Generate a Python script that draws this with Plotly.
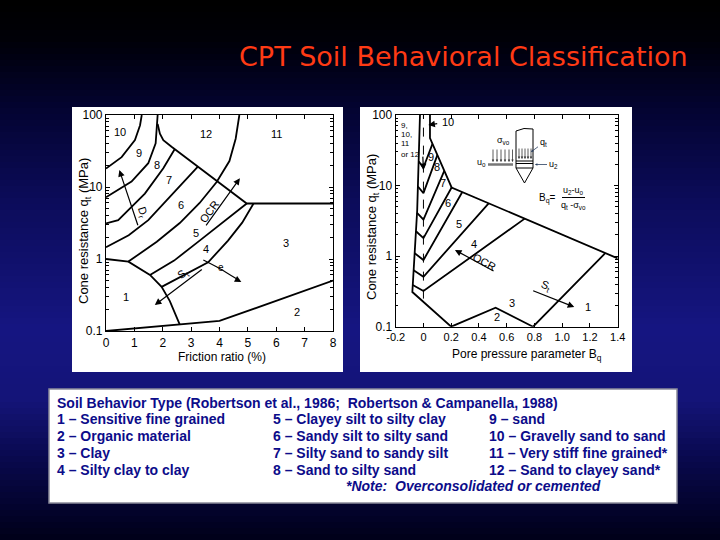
import numpy as np
import plotly.graph_objects as go

W, H = 720, 540

# ---------------- left chart: cone resistance vs friction ratio ----------------
rf_10_9 = [0, 0.55, 1.02, 1.2, 1.26]
qt_10_9 = [18, 26, 45, 72, 100]
rf_9_8 = [0, 0.9, 1.49, 1.75, 1.82]
qt_9_8 = [7.2, 11.9, 21.4, 40.5, 100]
rf_12 = [1.82, 1.9, 2.02, 2.31, 4.96, 8]
qt_12 = [75, 55, 44.7, 36.3, 5.9, 5.9]
rf_8_7 = [0, 0.43, 1.37, 2.02, 2.43]
qt_8_7 = [3.13, 3.47, 8.1, 18.2, 34]
rf_7_6 = [0, 0.8, 1.49, 2.43, 3.23]
qt_7_6 = [1.46, 2.14, 3.47, 8.6, 19]
rf_6_5 = [0.79, 1.79, 2.6, 3.3, 3.9, 4.35, 4.57, 4.7]
qt_6_5 = [0.92, 1.74, 3.16, 6.0, 11.7, 22.9, 46.8, 100]
rf_5_4 = [1.55, 2.4, 3.3, 4.0, 4.6, 4.96]
qt_5_4 = [0.6, 0.95, 1.8, 3.0, 4.6, 5.9]
rf_4_3 = [1.96, 2.8, 3.6, 4.3, 4.8, 5.2]
qt_4_3 = [0.41, 0.62, 0.9, 1.8, 3.2, 5.9]
rf_zone1 = [0, 0.79, 1.55, 1.96, 2.25, 2.45, 2.6]
qt_zone1 = [1.0, 0.92, 0.6, 0.41, 0.26, 0.17, 0.123]
rf_zone2 = [0, 4.0, 8]
qt_zone2 = [0.1, 0.138, 0.5]

left_lines = [(rf_10_9, qt_10_9), (rf_9_8, qt_9_8), (rf_12, qt_12), (rf_8_7, qt_8_7),
              (rf_7_6, qt_7_6), (rf_6_5, qt_6_5), (rf_5_4, qt_5_4), (rf_4_3, qt_4_3),
              (rf_zone1, qt_zone1), (rf_zone2, qt_zone2)]

zone_left = ["10", "9", "8", "7", "6", "5", "4", "12", "11", "3", "1", "2"]
zone_left_rf = [0.49, 1.17, 1.78, 2.23, 2.66, 3.17, 3.52, 3.52, 6.0, 6.33, 0.70, 6.73]
zone_left_qt = [58.8, 29.4, 20.2, 12.5, 5.7, 2.27, 1.38, 53.8, 53.8, 1.65, 0.30, 0.186]

# ---------------- right chart: cone resistance vs Bq ----------------
bq_outer = [-0.025, -0.045, -0.08, 0.2, 0.52, 0.79, 1.31]
qt_outer = [100, 4.5, 0.31, 0.1, 0.186, 0.1, 1.1]
bq_fan = [0.047, 0.047, 0.203, 1.4]
qt_fan = [100, 47, 9.4, 0.93]
bq_v1, qt_v1 = [-0.077, 0, 0.73], [0.39, 0.32, 3.4]
bq_v2, qt_v2 = [-0.071, 0, 0.47], [0.63, 0.51, 5.6]
bq_v3, qt_v3 = [-0.063, 0, 0.28], [1.1, 0.88, 8.1]
bq_v4, qt_v4 = [-0.054, 0, 0.203], [2.25, 1.8, 9.4]
bq_v5, qt_v5 = [-0.046, 0, 0.15], [4.1, 3.3, 16.2]
bq_v6, qt_v6 = [-0.040, 0, 0.1], [9.7, 7.8, 27]
bq_v7, qt_v7 = [-0.035, 0, 0.065], [22, 18, 39]
bq_dash, qt_dash = [0, 0], [0.25, 100]

right_lines = [(bq_outer, qt_outer), (bq_fan, qt_fan), (bq_v1, qt_v1), (bq_v2, qt_v2),
               (bq_v3, qt_v3), (bq_v4, qt_v4), (bq_v5, qt_v5), (bq_v6, qt_v6), (bq_v7, qt_v7)]

zone_right = ["9", "8", "7", "6", "5", "4", "3", "2", "1"]
zone_right_bq = [0.052, 0.10, 0.139, 0.175, 0.259, 0.364, 0.636, 0.528, 1.184]
zone_right_qt = [25.7, 18.5, 10.8, 5.6, 2.9, 1.51, 0.214, 0.138, 0.19]

legend_rows = [
    ["1 – Sensitive fine grained", "5 – Clayey silt to silty clay", "9 – sand"],
    ["2 – Organic material", "6 – Sandy silt to silty sand", "10 – Gravelly sand to sand"],
    ["3 – Clay", "7 – Silty sand to sandy silt", "11 – Very stiff fine grained*"],
    ["4 – Silty clay to clay", "8 – Sand to silty sand", "12 – Sand to clayey sand*"],
]

SANS = "Liberation Sans, Arial, sans-serif"


def px(x):
    return x / W


def py(y):
    return 1 - y / H


fig = go.Figure()

for xs, ys in left_lines:
    fig.add_trace(go.Scatter(x=xs, y=ys, mode="lines", line=dict(color="black", width=1.8),
                             xaxis="x", yaxis="y", showlegend=False, hoverinfo="skip"))
for xs, ys in right_lines:
    fig.add_trace(go.Scatter(x=xs, y=ys, mode="lines", line=dict(color="black", width=1.8),
                             xaxis="x2", yaxis="y2", showlegend=False, hoverinfo="skip"))
fig.add_trace(go.Scatter(x=bq_dash, y=qt_dash, mode="lines", line=dict(color="black", width=1, dash="dash"),
                         xaxis="x2", yaxis="y2", showlegend=False, hoverinfo="skip"))
# curved "e" arrow shaft
fig.add_trace(go.Scatter(x=[3.43, 4.0, 4.6], y=[0.97, 0.74, 0.53], mode="lines",
                         line=dict(color="black", width=1.2, shape="spline"),
                         xaxis="x", yaxis="y", showlegend=False, hoverinfo="skip"))

ann = []


def lab(text, x, q, axis="", size=11, angle=0):
    ann.append(dict(text=text, x=x, y=np.log10(q), xref="x" + axis, yref="y" + axis, showarrow=False,
                    textangle=angle, font=dict(family=SANS, size=size, color="black")))


def arrow(hx, hq, tx, tq, axis=""):
    ann.append(dict(text="", x=hx, y=np.log10(hq), ax=tx, ay=np.log10(tq), xref="x" + axis, yref="y" + axis,
                    axref="x" + axis, ayref="y" + axis, showarrow=True, arrowhead=2, arrowsize=1.1,
                    arrowwidth=1.2, arrowcolor="black"))


def note(text, x, y, font, xanchor="center", angle=0, **kw):
    # text placed in page pixels
    ann.append(dict(text=text, x=px(x), y=py(y), xref="paper", yref="paper", xanchor=xanchor,
                    yanchor="middle", textangle=angle, showarrow=False, font=font, **kw))


for t, x, q in zip(zone_left, zone_left_rf, zone_left_qt):
    lab(t, x, q)
for t, x, q in zip(zone_right, zone_right_bq, zone_right_qt):
    lab(t, x, q, "2")

# left chart arrows
arrow(0.47, 17.2, 1.14, 2.81)
lab("D<sub>r</sub>", 1.3, 4.4, size=11, angle=71)
arrow(4.72, 13.2, 3.49, 2.8)
lab("OCR", 3.66, 4.6, size=11, angle=-54)
arrow(4.77, 0.48, 4.55, 0.535)
lab("e", 4.07, 0.76, size=10)
arrow(1.72, 0.23, 3.43, 0.74)
lab("S<sub>t</sub>", 2.72, 0.62, size=11, angle=-37)

# right chart arrows
arrow(0.227, 1.22, 0.516, 0.6, "2")
lab("OCR", 0.44, 0.82, "2", size=11, angle=28)
arrow(1.087, 0.19, 0.78, 0.33, "2")
lab("S<sub>t</sub>", 0.88, 0.38, "2", size=11, angle=22)
arrow(0.035, 72, 0.11, 76, "2")
lab("10", 0.18, 80, "2", size=11)
arrow(0.0, 16.5, -0.005, 27, "2")
for t, q in zip(["9,", "10,", "11", "or 12"], [72, 53, 39, 28]):
    ann.append(dict(text=t, x=-0.175, y=np.log10(q), xref="x2", yref="y2", xanchor="left", showarrow=False,
                    font=dict(family=SANS, size=8, color="black")))

# axis titles
tfont = dict(family=SANS, size=12, color="black")
yfont = dict(family=SANS, size=13, color="black")
note("Cone resistance q<sub>t</sub> (MPa)", 84, 231, yfont, angle=-90)
note("Friction ratio (%)", 222, 357, tfont)
note("Cone resistance q<sub>t</sub> (MPa)", 372, 227, yfont, angle=-90)
note("Pore pressure parameter B<sub>q</sub>", 527, 355, tfont)

# title
note("CPT Soil Behavioral Classification", 463, 57,
     dict(family="Comic Sans MS, DejaVu Sans", size=27, color="#ff3a14"))

# legend box text
lfont = dict(family=SANS, size=14, color="#0c0c8a")
note("<b>Soil Behavior Type (Robertson et al., 1986;&nbsp; Robertson &amp; Campanella, 1988)</b>",
     55, 403, lfont, xanchor="left")
col_x = [55, 271, 487]
row_y = [419, 436, 453, 470]
for row, yy in zip(legend_rows, row_y):
    for t, xx in zip(row, col_x):
        note("<b>" + t + "</b>", xx, yy, lfont, xanchor="left")
note("<b><i>*Note:&nbsp; Overconsolidated or cemented</i></b>", 344, 486, lfont, xanchor="left")

# inset cone sketch (right chart)
ifont = dict(family=SANS, size=9, color="black")
for xx in [493, 497, 501, 505, 509, 512.5]:
    ann.append(dict(text="", x=px(xx), y=py(162), xref="paper", yref="paper", ax=0, ay=-14, showarrow=True,
                    arrowhead=2, arrowsize=0.6, arrowwidth=0.8, arrowcolor="#333"))
for xx in [519, 522, 525, 528, 531]:
    ann.append(dict(text="", x=px(xx), y=py(159), xref="paper", yref="paper", ax=0, ay=-12, showarrow=True,
                    arrowhead=2, arrowsize=0.6, arrowwidth=0.8, arrowcolor="#333"))
note("σ<sub>vo</sub>", 503, 141, ifont)
note("u<sub>o</sub>", 482, 163, ifont)
ann.append(dict(text="q<sub>t</sub>", x=px(531), y=py(152), xref="paper", yref="paper", ax=12, ay=-9, showarrow=True,
                arrowhead=2, arrowsize=0.6, arrowwidth=0.8, font=ifont))
ann.append(dict(text="u<sub>2</sub>", x=px(535), y=py(164.5), xref="paper", yref="paper", ax=18, ay=0,
                showarrow=True, arrowhead=2, arrowsize=0.6, arrowwidth=0.8, font=ifont))
note("B<sub>q</sub>=", 558, 198, dict(family=SANS, size=10, color="black"), xanchor="right")
note("u<sub>2</sub>-u<sub>o</sub>", 573, 190, ifont)
note("q<sub>t</sub> -σ<sub>vo</sub>", 573, 205, ifont)

shapes = []
# background gradient
gy = [0, 40, 110, 200, 330, 400, 470, 540]
gr = [0, 0, 4, 12, 22, 20, 8, 0]
gb = [0, 8, 50, 90, 130, 120, 70, 25]
for y0 in range(0, H, 6):
    ym = y0 + 3
    r = int(np.interp(ym, gy, gr))
    b = int(np.interp(ym, gy, gb))
    shapes.append(dict(type="rect", xref="paper", yref="paper", x0=0, x1=1, y0=py(y0 + 6.5), y1=py(y0),
                       fillcolor=f"rgb({r},{r},{b})", line=dict(width=0), layer="below"))
# white panels and legend box
for x0, x1, y0, y1 in [(72, 343, 107, 372), (360, 632, 107, 372)]:
    shapes.append(dict(type="rect", xref="paper", yref="paper", x0=px(x0), x1=px(x1), y0=py(y1), y1=py(y0),
                       fillcolor="white", line=dict(width=0), layer="below"))
shapes.append(dict(type="rect", xref="paper", yref="paper", x0=px(49), x1=px(677), y0=py(503), y1=py(389),
                   fillcolor="white", line=dict(color="#8a8a9a", width=1.5), layer="below"))


def seg(x0, y0, x1, y1, w=1, c="black"):
    shapes.append(dict(type="line", xref="paper", yref="paper", x0=px(x0), y0=py(y0), x1=px(x1), y1=py(y1),
                       line=dict(color=c, width=w)))


# cone body
seg(516, 131, 516, 168)
seg(533, 129, 533, 168)
seg(516, 131, 524, 128.5)
seg(524, 128.5, 533, 129)
seg(516, 161, 533, 161)
seg(516, 163.5, 533, 163.5)
seg(516, 168, 533, 168)
seg(516, 168, 524.5, 183)
seg(533, 168, 524.5, 183)
seg(488, 164.5, 513, 164.5, 2.5, "#777")
seg(562, 197.5, 585, 197.5, 1)

axis_common = dict(showline=True, linecolor="black", linewidth=1.2, mirror="ticks", ticks="inside",
                   ticklen=4, tickcolor="black", showgrid=False, zeroline=False, automargin=False,
                   tickfont=dict(family=SANS, size=12, color="black"))
minor_vals = [0.2, 0.3, 0.4, 0.5, 0.6, 0.7, 0.8, 0.9, 2, 3, 4, 5, 6, 7, 8, 9, 20, 30, 40, 50, 60, 70, 80, 90]
yaxis_common = dict(axis_common, type="log", range=[-1, 2], tickvals=[0.1, 1, 10, 100],
                    ticktext=["0.1", "1", "10", "100"],
                    minor=dict(tickvals=minor_vals, ticks="inside", ticklen=2.5, tickcolor="black", showgrid=False))

fig.update_layout(
    width=W, height=H,
    margin=dict(l=0, r=0, t=0, b=0, pad=0, autoexpand=False),
    paper_bgcolor="black",
    plot_bgcolor="rgba(0,0,0,0)",
    font=dict(family=SANS),
    xaxis=dict(axis_common, domain=[px(106), px(333)], range=[0, 8], tickvals=[0, 1, 2, 3, 4, 5, 6, 7, 8],
               anchor="y"),
    yaxis=dict(yaxis_common, domain=[py(331), py(115)], anchor="x"),
    xaxis2=dict(axis_common, domain=[px(395.7), px(617.7)], range=[-0.2, 1.4],
                tickvals=[-0.2, 0, 0.2, 0.4, 0.6, 0.8, 1.0, 1.2, 1.4],
                ticktext=["-0.2", "0", "0.2", "0.4", "0.6", "0.8", "1.0", "1.2", "1.4"],
                tickfont=dict(family=SANS, size=11, color="black"), anchor="y2"),
    yaxis2=dict(yaxis_common, domain=[py(326.7), py(115)], anchor="x2"),
    annotations=ann,
    shapes=shapes,
)

# drop the browser's default page margin so the figure sits at the window corner
fig.write_html("out.html", config={"displayModeBar": False},
               post_script="document.body.style.margin='0';")
